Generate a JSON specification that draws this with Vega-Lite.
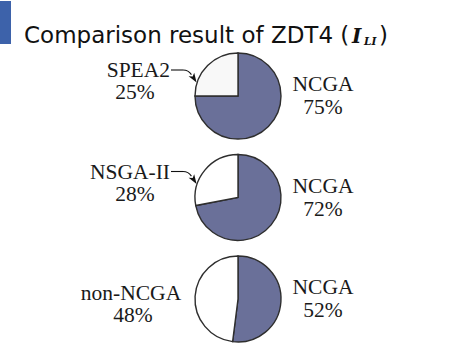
{
  "$schema": "https://vega.github.io/schema/vega-lite/v6.json",
  "padding": 0,
  "spacing": 0,
  "background": "white",
  "config": {"view": {"stroke": null}},
  "vconcat": [
    {
      "spacing": 0,
      "hconcat": [
        {
          "width": 11,
          "height": 43,
          "view": {"fill": "#3d62aa", "stroke": null},
          "data": {"values": []},
          "mark": "point",
          "encoding": {}
        },
        {
          "width": 1,
          "height": 1,
          "view": {"stroke": "transparent"},
          "data": {"values": []},
          "mark": "point",
          "encoding": {},
          "title": {"text": "Comparison result of ZDT4 (", "orient": "bottom", "anchor": "start", "baseline": "alphabetic", "offset": 41, "dx": 12, "font": "DejaVu Sans", "fontSize": 23, "fontWeight": "normal", "color": "#111111"}
        },
        {
          "width": 1,
          "height": 1,
          "view": {"stroke": "transparent"},
          "data": {"values": []},
          "mark": "point",
          "encoding": {},
          "title": {"text": "I", "orient": "bottom", "anchor": "start", "baseline": "alphabetic", "offset": 41, "dx": 1, "font": "DejaVu Serif", "fontSize": 20, "fontWeight": "bold", "fontStyle": "italic", "color": "#111111"}
        },
        {
          "width": 1,
          "height": 1,
          "view": {"stroke": "transparent"},
          "data": {"values": []},
          "mark": "point",
          "encoding": {},
          "title": {"text": "LI", "orient": "bottom", "anchor": "start", "baseline": "alphabetic", "offset": 42.5, "dx": 1, "font": "DejaVu Serif", "fontSize": 10.5, "fontWeight": "bold", "fontStyle": "italic", "color": "#111111"}
        },
        {
          "width": 1,
          "height": 1,
          "view": {"stroke": "transparent"},
          "data": {"values": []},
          "mark": "point",
          "encoding": {},
          "title": {"text": ")", "orient": "bottom", "anchor": "start", "baseline": "alphabetic", "offset": 41, "dx": 1, "font": "DejaVu Sans", "fontSize": 23, "fontWeight": "normal", "color": "#111111"}
        }
      ]
    },
    {
      "width": 474,
      "height": 305,
      "data": {
        "values": [
          {"comparison": "NCGA vs SPEA2", "algorithm": "NCGA", "share": 0.75},
          {"comparison": "NCGA vs SPEA2", "algorithm": "SPEA2", "share": 0.25},
          {"comparison": "NCGA vs NSGA-II", "algorithm": "NCGA", "share": 0.72},
          {"comparison": "NCGA vs NSGA-II", "algorithm": "NSGA-II", "share": 0.28},
          {"comparison": "NCGA vs non-NCGA", "algorithm": "NCGA", "share": 0.52},
          {"comparison": "NCGA vs non-NCGA", "algorithm": "non-NCGA", "share": 0.48}
        ]
      },
      "encoding": {
        "y": {
          "field": "comparison",
          "type": "nominal",
          "scale": {"type": "point", "domain": ["NCGA vs SPEA2", "NCGA vs NSGA-II", "NCGA vs non-NCGA"], "range": [47, 250], "padding": 0},
          "axis": null
        }
      },
      "layer": [
        {
          "transform": [
            {"stack": "share", "groupby": ["comparison"], "sort": [{"field": "algorithm", "order": "ascending"}], "as": ["s0", "s1"]}
          ],
          "mark": {"type": "arc", "outerRadius": 43, "stroke": "#2e2e2e", "strokeWidth": 1.4},
          "encoding": {
            "x": {"datum": "pie", "type": "nominal", "scale": {"type": "point", "domain": ["left", "pie", "right"], "range": [143, 333], "padding": 0}, "axis": null},
            "theta": {"field": "s0", "type": "quantitative", "scale": {"domain": [0, 1], "range": [0, 6.283185307179586]}},
            "theta2": {"field": "s1"},
            "color": {
              "field": "algorithm",
              "type": "nominal",
              "scale": {"domain": ["NCGA", "SPEA2", "NSGA-II", "non-NCGA"], "range": ["#6a7099", "#f8f8f8", "#ffffff", "#ffffff"]},
              "legend": null
            }
          }
        },
        {
          "transform": [{"filter": "datum.algorithm === 'NCGA'"}],
          "mark": {"type": "text", "font": "Liberation Serif", "fontSize": 21.5, "color": "#1a1a1a", "align": "center", "baseline": "alphabetic", "dx": -10, "dy": -5},
          "encoding": {
            "x": {"datum": "right", "type": "nominal", "scale": {"type": "point", "domain": ["left", "pie", "right"], "range": [143, 333], "padding": 0}, "axis": null},
            "text": {"field": "algorithm"}
          }
        },
        {
          "transform": [{"filter": "datum.algorithm === 'NCGA'"}],
          "mark": {"type": "text", "font": "Liberation Serif", "fontSize": 21.5, "color": "#1a1a1a", "align": "center", "baseline": "alphabetic", "dx": -10, "dy": 18},
          "encoding": {
            "x": {"datum": "right", "type": "nominal", "axis": null},
            "text": {"field": "share", "type": "quantitative", "format": ".0%"}
          }
        },
        {
          "transform": [{"filter": "datum.algorithm === 'SPEA2' || datum.algorithm === 'NSGA-II'"}],
          "mark": {"type": "text", "font": "Liberation Serif", "fontSize": 21.5, "color": "#1a1a1a", "align": "right", "baseline": "alphabetic", "dx": 27, "dy": -19},
          "encoding": {
            "x": {"datum": "left", "type": "nominal", "axis": null},
            "text": {"field": "algorithm"}
          }
        },
        {
          "transform": [{"filter": "datum.algorithm === 'SPEA2' || datum.algorithm === 'NSGA-II'"}],
          "mark": {"type": "text", "font": "Liberation Serif", "fontSize": 21.5, "color": "#1a1a1a", "align": "center", "baseline": "alphabetic", "dx": -8, "dy": 3},
          "encoding": {
            "x": {"datum": "left", "type": "nominal", "axis": null},
            "text": {"field": "share", "type": "quantitative", "format": ".0%"}
          }
        },
        {
          "transform": [{"filter": "datum.algorithm === 'non-NCGA'"}],
          "mark": {"type": "text", "font": "Liberation Serif", "fontSize": 21.5, "color": "#1a1a1a", "align": "center", "baseline": "alphabetic", "dx": -12, "dy": 1},
          "encoding": {
            "x": {"datum": "left", "type": "nominal", "axis": null},
            "text": {"field": "algorithm"}
          }
        },
        {
          "transform": [{"filter": "datum.algorithm === 'non-NCGA'"}],
          "mark": {"type": "text", "font": "Liberation Serif", "fontSize": 21.5, "color": "#1a1a1a", "align": "center", "baseline": "alphabetic", "dx": -10, "dy": 23},
          "encoding": {
            "x": {"datum": "left", "type": "nominal", "axis": null},
            "text": {"field": "share", "type": "quantitative", "format": ".0%"}
          }
        },
        {
          "transform": [{"filter": "datum.algorithm === 'SPEA2' || datum.algorithm === 'NSGA-II'"}],
          "mark": {"type": "rule", "xOffset": 28, "x2Offset": 40, "yOffset": -26, "color": "#111111", "strokeWidth": 1.1},
          "encoding": {
            "x": {"datum": "left", "type": "nominal", "axis": null},
            "x2": {"datum": "left"}
          }
        },
        {
          "transform": [{"filter": "datum.algorithm === 'SPEA2' || datum.algorithm === 'NSGA-II'"}],
          "mark": {"type": "arc", "innerRadius": 10, "outerRadius": 10, "theta": 0, "theta2": 1.0, "filled": false, "color": "#111111", "strokeWidth": 1.1, "xOffset": 40, "yOffset": -16},
          "encoding": {
            "x": {"datum": "left", "type": "nominal", "axis": null}
          }
        },
        {
          "transform": [{"filter": "datum.algorithm === 'SPEA2' || datum.algorithm === 'NSGA-II'"}],
          "mark": {"type": "point", "shape": "M0,-1L0.7,1L0,0.5L-0.7,1Z", "filled": true, "color": "#111111", "opacity": 1, "size": 90, "angle": 147, "strokeWidth": 0, "xOffset": 51, "yOffset": -17.5},
          "encoding": {
            "x": {"datum": "left", "type": "nominal", "axis": null}
          }
        }
      ]
    }
  ]
}
